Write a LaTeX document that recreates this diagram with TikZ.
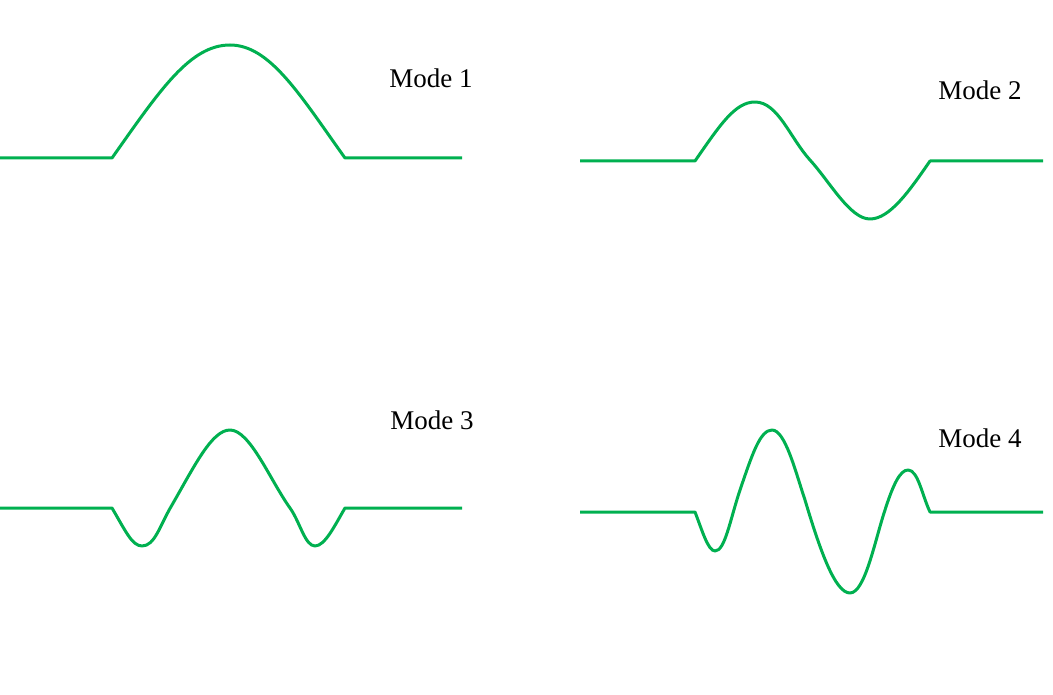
\documentclass[tikz,border=0pt]{standalone}
\usepackage{fontspec}
\setmainfont{Liberation Serif}
\definecolor{mgreen}{RGB}{0,176,80}
\begin{document}
\begin{tikzpicture}[x=1pt,y=-1pt,wave/.style={mgreen,line width=3pt,line join=round},lbl/.style={font=\fontsize{27}{30}\selectfont}]
\useasboundingbox (0,0) rectangle (1053,695);
% Mode 1
\draw[wave] (0,158) -- (112,158) .. controls (160,90) and (190,45) .. (230,45) .. controls (270,45) and (300,95) .. (345,158) -- (462,158);
\node[lbl] (m1) at (431,78) {Mode 1};
% Mode 2
\draw[wave] (580,161) -- (695,161) .. controls (720,125) and (735,102) .. (755,102) .. controls (778,102) and (790,138) .. (810,160) .. controls (830,182) and (850,219) .. (870,219) .. controls (890,219) and (910,190) .. (930,161) -- (1043,161);
\node[lbl] (m2) at (980,90) {Mode 2};
% Mode 3
\draw[wave] (0,508) -- (112,508) .. controls (125,530) and (132,546) .. (142,546) .. controls (155,546) and (160,525) .. (172,505) .. controls (195,465) and (212,430) .. (230,430) .. controls (250,430) and (270,480) .. (290,508) .. controls (300,522) and (305,546) .. (315,546) .. controls (325,546) and (335,525) .. (345,508) -- (462,508);
\node[lbl] (m3) at (432,420) {Mode 3};
% Mode 4
\draw[wave] (580,512) -- (695,512) .. controls (702,530) and (708,551) .. (715,551) .. controls (725,551) and (730,520) .. (740,490) .. controls (752,455) and (760,430) .. (772,430) .. controls (785,430) and (795,470) .. (805,500) .. controls (820,550) and (835,593) .. (850,593) .. controls (865,593) and (875,540) .. (885,510) .. controls (893,485) and (900,470) .. (908,470) .. controls (918,470) and (922,495) .. (930,512) -- (1043,512);
\node[lbl] (m4) at (980,438) {Mode 4};
\end{tikzpicture}
\end{document}
